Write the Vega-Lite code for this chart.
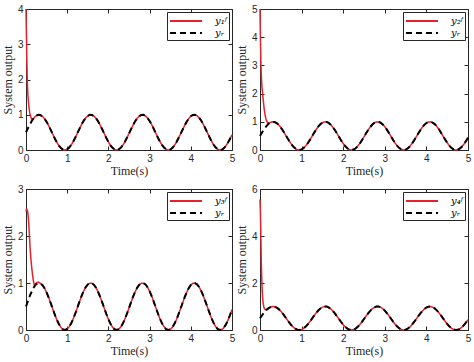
{
"$schema": "https://vega.github.io/schema/vega-lite/v6.json",
"background": "white",
"padding": {"left": 0, "top": 3, "right": 0, "bottom": 2},
"datasets": {"d": [
{"t":0,"r":0.5,"a":4.0,"b":5.0,"c":2.52,"d":5.55},
{"t":0.01,"r":0.525,"a":3.3,"b":3.95,"c":2.57,"d":5.0},
{"t":0.02,"r":0.55,"a":2.6,"b":3.2,"c":2.57,"d":4.1},
{"t":0.03,"r":0.575,"a":2.0,"b":2.7,"c":2.55,"d":2.95},
{"t":0.04,"r":0.599,"a":1.7,"b":2.4,"c":2.52,"d":2.3},
{"t":0.05,"r":0.624,"a":1.5,"b":2.2,"c":2.45,"d":1.8},
{"t":0.06,"r":0.648,"a":1.36,"b":2.05,"c":2.35,"d":1.45},
{"t":0.07,"r":0.671,"a":1.24,"b":1.88,"c":2.22,"d":1.25},
{"t":0.08,"r":0.695,"a":1.14,"b":1.74,"c":2.07,"d":1.1},
{"t":0.09,"r":0.718,"a":1.06,"b":1.6,"c":1.9,"d":1.0},
{"t":0.1,"r":0.74,"a":1.0,"b":1.46,"c":1.73,"d":0.94},
{"t":0.12,"r":0.782,"a":0.92,"b":1.27,"c":1.5,"d":0.88},
{"t":0.14,"r":0.822,"a":0.875,"b":1.12,"c":1.32,"d":0.86},
{"t":0.16,"r":0.859,"a":0.87,"b":1.03,"c":1.17,"d":0.87},
{"t":0.18,"r":0.892,"a":0.89,"b":0.97,"c":1.04,"d":0.9},
{"t":0.2,"r":0.921,"a":0.92,"b":0.95,"c":0.96,"d":0.92},
{"t":0.22,"r":0.946,"a":0.945,"b":0.96,"c":0.97,"d":0.945},
{"t":0.25,"r":0.975,"a":0.975,"b":0.98,"c":1.0,"d":0.975},
{"t":0.3,"r":0.999,"a":0.999,"b":1.0,"c":1.02,"d":0.999},
{"t":0.35,"r":0.992,"a":0.992,"b":0.992,"c":0.992,"d":0.992},
{"t":0.4,"r":0.955,"a":0.955,"b":0.955,"c":0.955,"d":0.955},
{"t":0.45,"r":0.889,"a":0.889,"b":0.889,"c":0.889,"d":0.889},
{"t":0.5,"r":0.799,"a":0.799,"b":0.799,"c":0.799,"d":0.799},
{"t":0.55,"r":0.691,"a":0.691,"b":0.691,"c":0.691,"d":0.691},
{"t":0.6,"r":0.571,"a":0.571,"b":0.571,"c":0.571,"d":0.571},
{"t":0.65,"r":0.446,"a":0.446,"b":0.446,"c":0.446,"d":0.446},
{"t":0.7,"r":0.325,"a":0.325,"b":0.325,"c":0.325,"d":0.325},
{"t":0.75,"r":0.214,"a":0.214,"b":0.214,"c":0.214,"d":0.214},
{"t":0.8,"r":0.122,"a":0.122,"b":0.122,"c":0.122,"d":0.122},
{"t":0.85,"r":0.053,"a":0.053,"b":0.053,"c":0.053,"d":0.053},
{"t":0.9,"r":0.011,"a":0.011,"b":0.011,"c":0.011,"d":0.011},
{"t":0.95,"r":0.0,"a":0.0,"b":0.0,"c":0.0,"d":0.0},
{"t":1.0,"r":0.021,"a":0.021,"b":0.021,"c":0.021,"d":0.021},
{"t":1.05,"r":0.071,"a":0.071,"b":0.071,"c":0.071,"d":0.071},
{"t":1.1,"r":0.147,"a":0.147,"b":0.147,"c":0.147,"d":0.147},
{"t":1.15,"r":0.245,"a":0.245,"b":0.245,"c":0.245,"d":0.245},
{"t":1.2,"r":0.36,"a":0.36,"b":0.36,"c":0.36,"d":0.36},
{"t":1.25,"r":0.483,"a":0.483,"b":0.483,"c":0.483,"d":0.483},
{"t":1.3,"r":0.608,"a":0.608,"b":0.608,"c":0.608,"d":0.608},
{"t":1.35,"r":0.725,"a":0.725,"b":0.725,"c":0.725,"d":0.725},
{"t":1.4,"r":0.829,"a":0.829,"b":0.829,"c":0.829,"d":0.829},
{"t":1.45,"r":0.912,"a":0.912,"b":0.912,"c":0.912,"d":0.912},
{"t":1.5,"r":0.969,"a":0.969,"b":0.969,"c":0.969,"d":0.969},
{"t":1.55,"r":0.997,"a":0.997,"b":0.997,"c":0.997,"d":0.997},
{"t":1.6,"r":0.995,"a":0.995,"b":0.995,"c":0.995,"d":0.995},
{"t":1.65,"r":0.961,"a":0.961,"b":0.961,"c":0.961,"d":0.961},
{"t":1.7,"r":0.899,"a":0.899,"b":0.899,"c":0.899,"d":0.899},
{"t":1.75,"r":0.812,"a":0.812,"b":0.812,"c":0.812,"d":0.812},
{"t":1.8,"r":0.706,"a":0.706,"b":0.706,"c":0.706,"d":0.706},
{"t":1.85,"r":0.587,"a":0.587,"b":0.587,"c":0.587,"d":0.587},
{"t":1.9,"r":0.462,"a":0.462,"b":0.462,"c":0.462,"d":0.462},
{"t":1.95,"r":0.34,"a":0.34,"b":0.34,"c":0.34,"d":0.34},
{"t":2.0,"r":0.228,"a":0.228,"b":0.228,"c":0.228,"d":0.228},
{"t":2.05,"r":0.133,"a":0.133,"b":0.133,"c":0.133,"d":0.133},
{"t":2.1,"r":0.06,"a":0.06,"b":0.06,"c":0.06,"d":0.06},
{"t":2.15,"r":0.015,"a":0.015,"b":0.015,"c":0.015,"d":0.015},
{"t":2.2,"r":0.0,"a":0.0,"b":0.0,"c":0.0,"d":0.0},
{"t":2.25,"r":0.017,"a":0.017,"b":0.017,"c":0.017,"d":0.017},
{"t":2.3,"r":0.062,"a":0.062,"b":0.062,"c":0.062,"d":0.062},
{"t":2.35,"r":0.137,"a":0.137,"b":0.137,"c":0.137,"d":0.137},
{"t":2.4,"r":0.232,"a":0.232,"b":0.232,"c":0.232,"d":0.232},
{"t":2.45,"r":0.346,"a":0.346,"b":0.346,"c":0.346,"d":0.346},
{"t":2.5,"r":0.467,"a":0.467,"b":0.467,"c":0.467,"d":0.467},
{"t":2.55,"r":0.592,"a":0.592,"b":0.592,"c":0.592,"d":0.592},
{"t":2.6,"r":0.71,"a":0.71,"b":0.71,"c":0.71,"d":0.71},
{"t":2.65,"r":0.816,"a":0.816,"b":0.816,"c":0.816,"d":0.816},
{"t":2.7,"r":0.902,"a":0.902,"b":0.902,"c":0.902,"d":0.902},
{"t":2.75,"r":0.963,"a":0.963,"b":0.963,"c":0.963,"d":0.963},
{"t":2.8,"r":0.995,"a":0.995,"b":0.995,"c":0.995,"d":0.995},
{"t":2.85,"r":0.997,"a":0.997,"b":0.997,"c":0.997,"d":0.997},
{"t":2.9,"r":0.968,"a":0.968,"b":0.968,"c":0.968,"d":0.968},
{"t":2.95,"r":0.909,"a":0.909,"b":0.909,"c":0.909,"d":0.909},
{"t":3.0,"r":0.825,"a":0.825,"b":0.825,"c":0.825,"d":0.825},
{"t":3.05,"r":0.721,"a":0.721,"b":0.721,"c":0.721,"d":0.721},
{"t":3.1,"r":0.603,"a":0.603,"b":0.603,"c":0.603,"d":0.603},
{"t":3.15,"r":0.479,"a":0.479,"b":0.479,"c":0.479,"d":0.479},
{"t":3.2,"r":0.356,"a":0.356,"b":0.356,"c":0.356,"d":0.356},
{"t":3.25,"r":0.241,"a":0.241,"b":0.241,"c":0.241,"d":0.241},
{"t":3.3,"r":0.144,"a":0.144,"b":0.144,"c":0.144,"d":0.144},
{"t":3.35,"r":0.068,"a":0.068,"b":0.068,"c":0.068,"d":0.068},
{"t":3.4,"r":0.019,"a":0.019,"b":0.019,"c":0.019,"d":0.019},
{"t":3.45,"r":0.0,"a":0.0,"b":0.0,"c":0.0,"d":0.0},
{"t":3.5,"r":0.012,"a":0.012,"b":0.012,"c":0.012,"d":0.012},
{"t":3.55,"r":0.054,"a":0.054,"b":0.054,"c":0.054,"d":0.054},
{"t":3.6,"r":0.125,"a":0.125,"b":0.125,"c":0.125,"d":0.125},
{"t":3.65,"r":0.219,"a":0.219,"b":0.219,"c":0.219,"d":0.219},
{"t":3.7,"r":0.331,"a":0.331,"b":0.331,"c":0.331,"d":0.331},
{"t":3.75,"r":0.452,"a":0.452,"b":0.452,"c":0.452,"d":0.452},
{"t":3.8,"r":0.575,"a":0.575,"b":0.575,"c":0.575,"d":0.575},
{"t":3.85,"r":0.694,"a":0.694,"b":0.694,"c":0.694,"d":0.694},
{"t":3.9,"r":0.803,"a":0.803,"b":0.803,"c":0.803,"d":0.803},
{"t":3.95,"r":0.891,"a":0.891,"b":0.891,"c":0.891,"d":0.891},
{"t":4.0,"r":0.957,"a":0.957,"b":0.957,"c":0.957,"d":0.957},
{"t":4.05,"r":0.993,"a":0.993,"b":0.993,"c":0.993,"d":0.993},
{"t":4.1,"r":0.998,"a":0.998,"b":0.998,"c":0.998,"d":0.998},
{"t":4.15,"r":0.972,"a":0.972,"b":0.972,"c":0.972,"d":0.972},
{"t":4.2,"r":0.918,"a":0.918,"b":0.918,"c":0.918,"d":0.918},
{"t":4.25,"r":0.837,"a":0.837,"b":0.837,"c":0.837,"d":0.837},
{"t":4.3,"r":0.735,"a":0.735,"b":0.735,"c":0.735,"d":0.735},
{"t":4.35,"r":0.618,"a":0.618,"b":0.618,"c":0.618,"d":0.618},
{"t":4.4,"r":0.496,"a":0.496,"b":0.496,"c":0.496,"d":0.496},
{"t":4.45,"r":0.374,"a":0.374,"b":0.374,"c":0.374,"d":0.374},
{"t":4.5,"r":0.256,"a":0.256,"b":0.256,"c":0.256,"d":0.256},
{"t":4.55,"r":0.156,"a":0.156,"b":0.156,"c":0.156,"d":0.156},
{"t":4.6,"r":0.077,"a":0.077,"b":0.077,"c":0.077,"d":0.077},
{"t":4.65,"r":0.024,"a":0.024,"b":0.024,"c":0.024,"d":0.024},
{"t":4.7,"r":0.001,"a":0.001,"b":0.001,"c":0.001,"d":0.001},
{"t":4.75,"r":0.007,"a":0.007,"b":0.007,"c":0.007,"d":0.007},
{"t":4.8,"r":0.047,"a":0.047,"b":0.047,"c":0.047,"d":0.047},
{"t":4.85,"r":0.114,"a":0.114,"b":0.114,"c":0.114,"d":0.114},
{"t":4.9,"r":0.204,"a":0.204,"b":0.204,"c":0.204,"d":0.204},
{"t":4.95,"r":0.313,"a":0.313,"b":0.313,"c":0.313,"d":0.313},
{"t":5.0,"r":0.434,"a":0.434,"b":0.434,"c":0.434,"d":0.434}
]},
"columns": 2,
"spacing": {"row": 39, "column": 28},
"bounds": "flush",
"resolve": {"scale": {"x": "independent", "y": "independent", "color": "independent", "strokeDash": "independent"}, "legend": {"color": "independent", "strokeDash": "independent"}},
"concat": [
{
 "width": 206, "height": 141,
 "data": {"name": "d"},
 "transform": [{"fold": ["a", "r"], "as": ["s", "v"]}],
 "resolve": {"axis": {"x": "independent", "y": "independent"}},
 "encoding": {
  "x": {"field": "t", "type": "quantitative", "scale": {"domain": [0, 5], "nice": false}, "axis": {"values": [0, 1, 2, 3, 4, 5], "title": "Time(s)"}},
  "y": {"field": "v", "type": "quantitative", "scale": {"domain": [0, 4], "nice": false}, "axis": {"values": [0, 1, 2, 3, 4], "title": "System output"}},
  "color": {"field": "s", "type": "nominal", "scale": {"domain": ["a", "r"], "range": ["#e8202a", "#000000"]}, "legend": {"title": null, "labelExpr": "datum.value == 'r' ? 'yᵣ' : 'y₁ᶠ'"}},
  "strokeDash": {"field": "s", "type": "nominal", "scale": {"domain": ["a", "r"], "range": [[1, 0], [6, 4]]}, "legend": {"title": null, "labelExpr": "datum.value == 'r' ? 'yᵣ' : 'y₁ᶠ'"}}
 },
 "layer": [
  {"transform": [{"filter": "datum.s == 'a'"}], "mark": {"type": "line", "strokeWidth": 1.5}},
  {"transform": [{"filter": "datum.s == 'r'"}], "mark": {"type": "line", "strokeWidth": 2},
   "encoding": {
    "x": {"field": "t", "type": "quantitative", "scale": {"domain": [0, 5], "nice": false}, "axis": {"orient": "top", "values": [0, 1, 2, 3, 4, 5], "labels": false, "title": null}},
    "y": {"field": "v", "type": "quantitative", "scale": {"domain": [0, 4], "nice": false}, "axis": {"orient": "right", "values": [0, 1, 2, 3, 4], "labels": false, "title": null}}
   }}
 ]
},
{
 "width": 208, "height": 141,
 "data": {"name": "d"},
 "transform": [{"fold": ["b", "r"], "as": ["s", "v"]}],
 "resolve": {"axis": {"x": "independent", "y": "independent"}},
 "encoding": {
  "x": {"field": "t", "type": "quantitative", "scale": {"domain": [0, 5], "nice": false}, "axis": {"values": [0, 1, 2, 3, 4, 5], "title": "Time(s)"}},
  "y": {"field": "v", "type": "quantitative", "scale": {"domain": [0, 5], "nice": false}, "axis": {"values": [0, 1, 2, 3, 4, 5], "title": "System output"}},
  "color": {"field": "s", "type": "nominal", "scale": {"domain": ["b", "r"], "range": ["#e8202a", "#000000"]}, "legend": {"title": null, "labelExpr": "datum.value == 'r' ? 'yᵣ' : 'y₂ᶠ'"}},
  "strokeDash": {"field": "s", "type": "nominal", "scale": {"domain": ["b", "r"], "range": [[1, 0], [6, 4]]}, "legend": {"title": null, "labelExpr": "datum.value == 'r' ? 'yᵣ' : 'y₂ᶠ'"}}
 },
 "layer": [
  {"transform": [{"filter": "datum.s == 'b'"}], "mark": {"type": "line", "strokeWidth": 1.5}},
  {"transform": [{"filter": "datum.s == 'r'"}], "mark": {"type": "line", "strokeWidth": 2},
   "encoding": {
    "x": {"field": "t", "type": "quantitative", "scale": {"domain": [0, 5], "nice": false}, "axis": {"orient": "top", "values": [0, 1, 2, 3, 4, 5], "labels": false, "title": null}},
    "y": {"field": "v", "type": "quantitative", "scale": {"domain": [0, 5], "nice": false}, "axis": {"orient": "right", "values": [0, 1, 2, 3, 4, 5], "labels": false, "title": null}}
   }}
 ]
},
{
 "width": 206, "height": 141,
 "data": {"name": "d"},
 "transform": [{"fold": ["c", "r"], "as": ["s", "v"]}],
 "resolve": {"axis": {"x": "independent", "y": "independent"}},
 "encoding": {
  "x": {"field": "t", "type": "quantitative", "scale": {"domain": [0, 5], "nice": false}, "axis": {"values": [0, 1, 2, 3, 4, 5], "title": "Time(s)"}},
  "y": {"field": "v", "type": "quantitative", "scale": {"domain": [0, 3], "nice": false}, "axis": {"values": [0, 1, 2, 3], "title": "System output"}},
  "color": {"field": "s", "type": "nominal", "scale": {"domain": ["c", "r"], "range": ["#e8202a", "#000000"]}, "legend": {"title": null, "labelExpr": "datum.value == 'r' ? 'yᵣ' : 'y₃ᶠ'"}},
  "strokeDash": {"field": "s", "type": "nominal", "scale": {"domain": ["c", "r"], "range": [[1, 0], [6, 4]]}, "legend": {"title": null, "labelExpr": "datum.value == 'r' ? 'yᵣ' : 'y₃ᶠ'"}}
 },
 "layer": [
  {"transform": [{"filter": "datum.s == 'c'"}], "mark": {"type": "line", "strokeWidth": 1.5}},
  {"transform": [{"filter": "datum.s == 'r'"}], "mark": {"type": "line", "strokeWidth": 2},
   "encoding": {
    "x": {"field": "t", "type": "quantitative", "scale": {"domain": [0, 5], "nice": false}, "axis": {"orient": "top", "values": [0, 1, 2, 3, 4, 5], "labels": false, "title": null}},
    "y": {"field": "v", "type": "quantitative", "scale": {"domain": [0, 3], "nice": false}, "axis": {"orient": "right", "values": [0, 1, 2, 3], "labels": false, "title": null}}
   }}
 ]
},
{
 "width": 208, "height": 141,
 "data": {"name": "d"},
 "transform": [{"fold": ["d", "r"], "as": ["s", "v"]}],
 "resolve": {"axis": {"x": "independent", "y": "independent"}},
 "encoding": {
  "x": {"field": "t", "type": "quantitative", "scale": {"domain": [0, 5], "nice": false}, "axis": {"values": [0, 1, 2, 3, 4, 5], "title": "Time(s)"}},
  "y": {"field": "v", "type": "quantitative", "scale": {"domain": [0, 6], "nice": false}, "axis": {"values": [0, 2, 4, 6], "title": "System output"}},
  "color": {"field": "s", "type": "nominal", "scale": {"domain": ["d", "r"], "range": ["#e8202a", "#000000"]}, "legend": {"title": null, "labelExpr": "datum.value == 'r' ? 'yᵣ' : 'y₄ᶠ'"}},
  "strokeDash": {"field": "s", "type": "nominal", "scale": {"domain": ["d", "r"], "range": [[1, 0], [6, 4]]}, "legend": {"title": null, "labelExpr": "datum.value == 'r' ? 'yᵣ' : 'y₄ᶠ'"}}
 },
 "layer": [
  {"transform": [{"filter": "datum.s == 'd'"}], "mark": {"type": "line", "strokeWidth": 1.5}},
  {"transform": [{"filter": "datum.s == 'r'"}], "mark": {"type": "line", "strokeWidth": 2},
   "encoding": {
    "x": {"field": "t", "type": "quantitative", "scale": {"domain": [0, 5], "nice": false}, "axis": {"orient": "top", "values": [0, 1, 2, 3, 4, 5], "labels": false, "title": null}},
    "y": {"field": "v", "type": "quantitative", "scale": {"domain": [0, 6], "nice": false}, "axis": {"orient": "right", "values": [0, 2, 4, 6], "labels": false, "title": null}}
   }}
 ]
}
],
"config": {
 "view": {"stroke": "#262626", "strokeWidth": 1},
 "axis": {"grid": false, "domain": false, "tickColor": "#262626", "tickSize": -4, "labelPadding": 7, "labelFlush": false, "labelFont": "Liberation Sans", "labelFontSize": 10, "labelColor": "#262626", "titleFont": "Liberation Serif", "titleFontSize": 12, "titleFontWeight": "normal", "titleColor": "#262626"},
 "axisX": {"titlePadding": 2},
 "axisY": {"titlePadding": 3},
 "legend": {"orient": "top-right", "offset": 3, "padding": 2, "fillColor": "white", "strokeColor": "#262626", "symbolType": "M-2.67,0H2.67", "symbolSize": 144, "symbolOffset": 10, "symbolStrokeWidth": 1.8, "labelFont": "DejaVu Serif", "labelFontStyle": "italic", "labelFontSize": 10, "rowPadding": 0, "labelOffset": 22}
}
}
